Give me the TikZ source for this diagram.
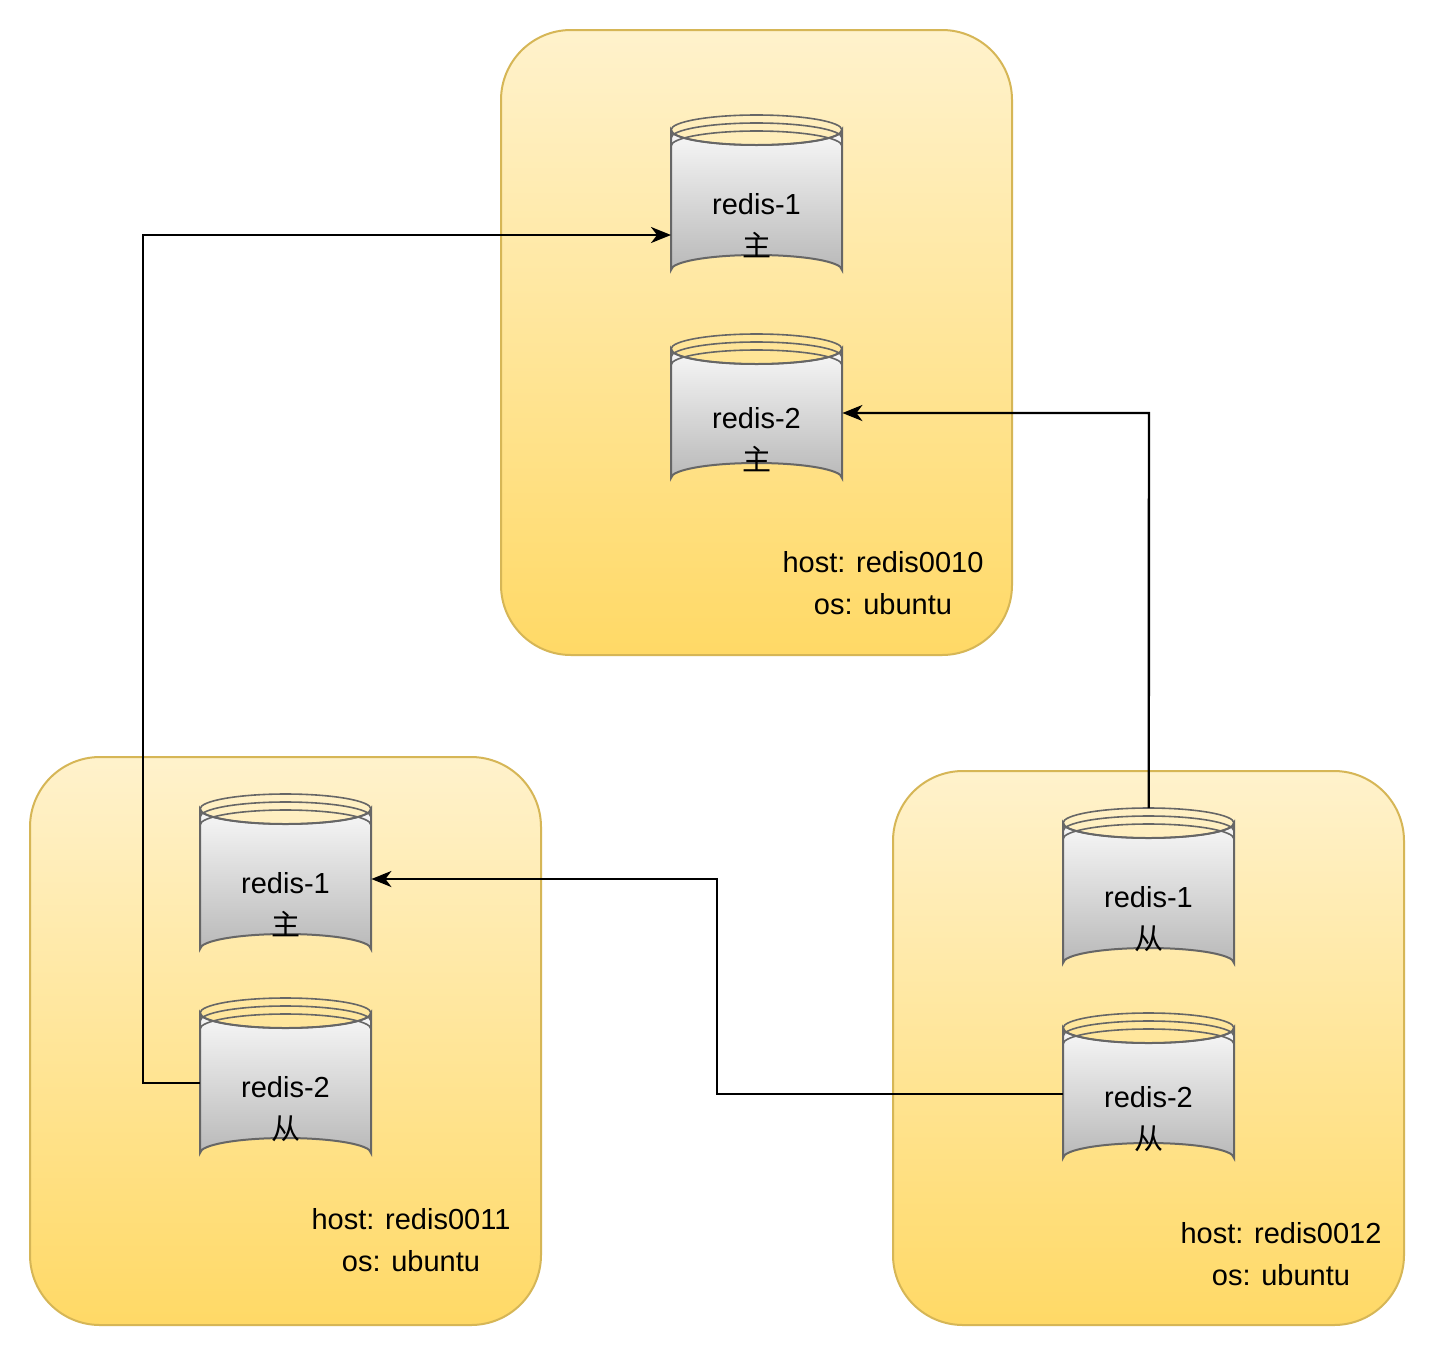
\documentclass[tikz,border=0pt]{standalone}
\usepackage{fontspec}
\setmainfont{Liberation Sans}
\newfontfamily\cjk{Noto Sans CJK SC}
\usetikzlibrary{arrows.meta}
\definecolor{boxb}{HTML}{D6B656}
\definecolor{boxt}{HTML}{FFF2CC}
\definecolor{boxbot}{HTML}{FFD966}
\definecolor{cylb}{HTML}{666666}
\tikzset{
  host/.style={draw=boxb,line width=2pt,rounded corners=70pt,top color=boxt,bottom color=boxbot},
  cylshape/.style={draw=cylb,line width=2pt,top color=gray!6,bottom color=gray!55},
  cylline/.style={draw=cylb,line width=1.6pt},
  lbl/.style={font=\fontsize{29}{42}\selectfont,align=center,inner sep=0},
  conn/.style={line width=2.4pt,-{Stealth[length=20pt,width=16pt,inset=6pt]}}
}
% name, x, y(top), h, line1, line2
\newcommand\rcyl[6]{%
  \path[cylshape] (#2,#3+15) -- (#2,#3+#4-15) arc[start angle=180,end angle=360,x radius=85.5,y radius=15]
     -- (#2+171,#3+15) arc[start angle=0,end angle=180,x radius=85.5,y radius=15] -- cycle;
  \draw[cylline] (#2+85.5,#3+15) ellipse[x radius=85.5,y radius=15];
  \draw[cylline] (#2,#3+23) arc[start angle=180,end angle=360,x radius=85.5,y radius=15];
  \draw[cylline] (#2,#3+31) arc[start angle=180,end angle=360,x radius=85.5,y radius=15];
  \node[inner sep=0,minimum width=171pt,minimum height=#4pt,anchor=north west] (#1) at (#2,#3) {};
  \node[lbl] at (#2+85.5,#3+#4/2+26) {#5\\{\cjk #6}};
}
\begin{document}
\begin{tikzpicture}[x=1pt,y=-1pt]
\useasboundingbox (0,0) rectangle (1440,1358);
\fill[white] (0,0) rectangle (1440,1358);
\path[host] (501,30) rectangle (1012,655);
\path[host] (30,757) rectangle (541,1325);
\path[host] (893,771) rectangle (1404,1325);
\rcyl{a1}{671}{115}{170}{redis-1}{主}
\rcyl{a2}{671}{334}{159}{redis-2}{主}
\rcyl{b1}{200}{794}{170}{redis-1}{主}
\rcyl{b2}{200}{998}{170}{redis-2}{从}
\rcyl{c1}{1063}{808}{170}{redis-1}{从}
\rcyl{c2}{1063}{1013}{160}{redis-2}{从}
\node[lbl] (h0) at (883,583) {host: redis0010\\os: ubuntu};
\node[lbl] (h1) at (411,1240) {host: redis0011\\os: ubuntu};
\node[lbl] (h2) at (1281,1254) {host: redis0012\\os: ubuntu};
\coordinate (p1) at (143,1083);
\coordinate (p2) at (143,235);
\draw[conn] (b2.west |- p1) -- (p1) -- (p2) -- (a1.west |- p2);
\coordinate (q1) at (1149,413);
\draw[conn] (c1.north) -- (q1) -- (a2.east |- q1);
\coordinate (r1) at (717,1094);
\coordinate (r2) at (717,879);
\draw[conn] (c2.west |- r1) -- (r1) -- (r2) -- (b1.east |- r2);
\end{tikzpicture}
\end{document}
